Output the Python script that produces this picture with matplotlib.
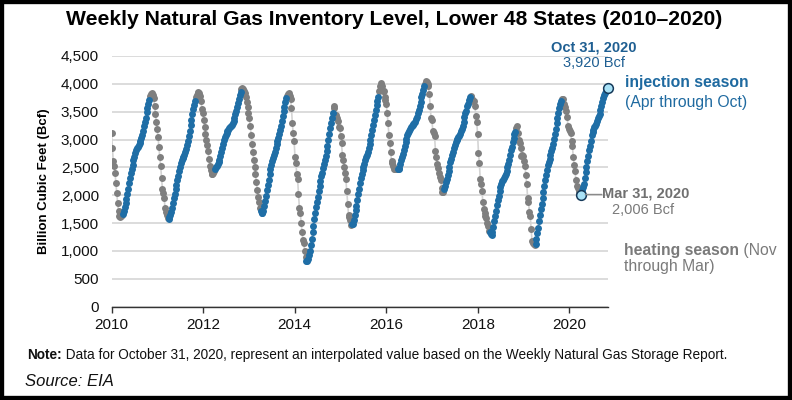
from matplotlib import pyplot as plt
from matplotlib.patches import Rectangle
import pandas as pd

# weekly working gas in storage, Bcf (week ending Fridays)
y2010 = [3117, 2851, 2607, 2523, 2406, 2229, 2036, 1853, 1723, 1625, 1616, 1627, 1638,
         1669, 1710, 1785, 1865, 1940, 2020, 2115, 2215, 2310, 2395, 2478, 2550, 2630,
         2695, 2755, 2807, 2844, 2873, 2910, 2938, 2966, 3027, 3086, 3157, 3235, 3312,
         3396, 3489, 3569, 3641, 3708, 3775, 3816, 3840, 3803, 3750, 3610, 3456, 3322, 3186]
y2011 = [3050, 2860, 2683, 2533, 2308, 2117, 2038, 1944, 1775, 1700, 1647, 1592, 1578,
         1604, 1654, 1704, 1780, 1853, 1948, 2020, 2110, 2190, 2266, 2355, 2444,
         2510, 2580, 2628, 2671, 2693, 2730, 2775, 2830, 2895, 2975, 3060, 3160, 3260, 3350,
         3450, 3540, 3620, 3690, 3760, 3800, 3835, 3852, 3843, 3787, 3695, 3546, 3473]
y2012 = [3350, 3230, 3100, 3000, 2900, 2790, 2650, 2530, 2450, 2390, 2375, 2395, 2440,
         2480, 2500, 2528, 2557, 2590, 2630, 2700, 2775, 2850, 2920, 2985, 3040, 3075,
         3110, 3145, 3175, 3200, 3222, 3245, 3270, 3300, 3340, 3390, 3450, 3520, 3590,
         3660, 3730, 3800, 3860, 3905, 3929, 3905, 3880, 3830, 3760, 3680, 3580, 3480]
y2013 = [3380, 3250, 3090, 2920, 2780, 2640, 2510, 2380, 2240, 2100, 1975, 1875, 1780,
         1720, 1687, 1676, 1719, 1800, 1900, 1995, 2090, 2180, 2280, 2375, 2470, 2545,
         2610, 2670, 2720, 2780, 2850, 2915, 2975, 3035, 3100, 3175, 3250, 3335, 3420,
         3505, 3590, 3675, 3740, 3785, 3815, 3834, 3790, 3720, 3570, 3290, 3110, 2970]
y2014 = [2694, 2587, 2390, 2284, 2022, 1780, 1683, 1509, 1348, 1200, 1143, 1001, 896,
         822, 826, 850, 925, 1006, 1111, 1216, 1332, 1446, 1568, 1679, 1793, 1883,
         1972, 2070, 2163, 2253, 2342, 2407, 2481, 2556, 2635, 2709, 2799, 2889, 2999,
         3100, 3205, 3299, 3393, 3484, 3574, 3611, 3449, 3432, 3381, 3327, 3225, 3199]
y2015 = [3070, 2939, 2723, 2629, 2515, 2400, 2284, 2069, 1850, 1652, 1607, 1553, 1461,
         1476, 1491, 1565, 1653, 1734, 1816, 1915, 2029, 2119, 2225, 2313, 2389, 2453,
         2509, 2565, 2635, 2683, 2715, 2780, 2850, 2920, 3000, 3080, 3170, 3260, 3350,
         3440, 3530, 3620, 3700, 3770, 3880, 3960, 4009, 3962, 3880, 3876, 3756, 3715]
y2016 = [3643, 3475, 3296, 3085, 2934, 2776, 2618, 2571, 2522, 2480, 2479, 2467, 2468,
         2473, 2477, 2484, 2557, 2625, 2681, 2749, 2820, 2885, 2950, 3015, 3077, 3114,
         3150, 3186, 3221, 3246, 3263, 3275, 3297, 3316, 3368, 3408, 3480, 3531, 3603, 3683,
         3762, 3823, 3882, 3953, 4004, 4047, 4035, 3993, 3966, 3819, 3598, 3389, 3360]
y2017 = [3160, 3117, 3066, 2802, 2684, 2570, 2481, 2391, 2333, 2280, 2130, 2051, 2053,
         2104, 2158, 2232, 2299, 2366, 2434, 2510, 2591, 2660, 2720, 2781, 2842, 2904,
         2960, 2995, 3015, 3040, 3065, 3106, 3152, 3183, 3242, 3311, 3402, 3473, 3519,
         3595, 3646, 3710, 3765, 3790, 3772, 3726, 3693, 3695, 3606, 3424, 3312, 3103]
y2018 = [2767, 2584, 2296, 2197, 2078, 1884, 1760, 1682, 1625, 1593, 1502, 1446, 1354,
         1332, 1299, 1281, 1343, 1432, 1538, 1629, 1725, 1817, 1909, 1995, 2071, 2149,
         2203, 2249, 2273, 2308, 2354, 2385, 2432, 2502, 2570, 2639, 2725, 2811, 2866,
         2956, 3037, 3095, 3143, 3208, 3247, 3113, 2991, 2932, 2855, 2714, 2725, 2705]
y2019 = [2614, 2533, 2370, 2197, 1960, 1882, 1705, 1628, 1390, 1186, 1143, 1130, 1107,
         1130, 1222, 1314, 1420, 1530, 1640, 1745, 1845, 1960, 2065, 2175, 2270, 2360,
         2450, 2540, 2600, 2660, 2725, 2790, 2855, 2925, 3010, 3095, 3190, 3290, 3390,
         3480, 3560, 3630, 3690, 3729, 3732, 3638, 3610, 3591, 3518, 3411, 3250, 3192]
y2020 = [3150, 3120, 2979, 2887, 2686, 2549, 2434, 2283, 2174, 2126, 2082, 2033, 2016,
         2029, 2097, 2140, 2210, 2319, 2422, 2503, 2612, 2714, 2807, 2892, 2972, 3077,
         3133, 3178, 3223, 3249, 3282, 3340, 3382, 3427, 3461, 3525, 3610, 3680, 3745,
         3795, 3840, 3872, 3898]
years = list(range(2010, 2021))

# the two labelled points
hi_dates = ["2020-03-31", "2020-10-31"]
hi_vals = [2006, 3920]
hi_labels = ["Mar 31, 2020", "Oct 31, 2020"]

xticks = [2010, 2012, 2014, 2016, 2018, 2020]
yticks = [0, 500, 1000, 1500, 2000, 2500, 3000, 3500, 4000, 4500]

BLUE = "#1f6ea6"
GRAY = "#7f7f7f"

parts = []
for yr, vals in zip(years, [y2010, y2011, y2012, y2013, y2014, y2015, y2016,
                            y2017, y2018, y2019, y2020]):
    d = pd.date_range(start=f"{yr}-01-01", periods=len(vals), freq="W-FRI")
    parts.append(pd.Series(vals, index=d))
parts.append(pd.Series(hi_vals, index=pd.to_datetime(hi_dates)))
s = pd.concat(parts).sort_index()

inj = (s.index.month >= 4) & (s.index.month <= 10)  # Apr through Oct

plt.rcParams['font.family'] = ['Liberation Sans', 'DejaVu Sans']
fig = plt.figure(figsize=(7.92, 4.0), dpi=100)
ax = fig.add_axes([111.5 / 792, 1 - 306.7 / 400, (608 - 111.5) / 792, (306.7 - 56) / 400])

ax.plot(s.index, s.values, color="#d4d4d4", lw=1.2, zorder=1)
ax.plot(s.index[~inj], s.values[~inj], 'o', color=GRAY, ms=5.0, mew=0, zorder=2)
ax.plot(s.index[inj], s.values[inj], 'o', color=BLUE, ms=5.0, mew=0, zorder=3)
ax.plot(pd.to_datetime(hi_dates), hi_vals, 'o', ms=7, mfc="#a9e2f7", mec="#163a5a",
        mew=1.1, zorder=4, clip_on=False)

ax.set_xlim(pd.Timestamp("2010-01-01"), pd.Timestamp("2020-11-03"))
ax.set_ylim(0, 4500)
ax.set_yticks(yticks)
ax.set_yticklabels([f"{v:,}" for v in yticks])
ax.set_xticks([pd.Timestamp(f"{y}-01-01") for y in xticks])
ax.set_xticklabels([str(y) for y in xticks])
ax.grid(axis='y', color="#d9d9d9", lw=1.3)
ax.set_axisbelow(True)
for sp in ['top', 'right', 'left']:
    ax.spines[sp].set_visible(False)
ax.spines['bottom'].set_color("#333333")
ax.spines['bottom'].set_linewidth(1.0)
ax.tick_params(axis='y', length=0, pad=9, labelsize=11, labelcolor="#111111")
ax.tick_params(axis='x', length=4, width=1.0, color="#333333", pad=4,
               labelsize=11, labelcolor="#111111")
ax.set_ylabel("Billion Cubic Feet (Bcf)", fontsize=9.5, fontweight='bold', labelpad=8)

fig.text(0.498, 0.952, "Weekly Natural Gas Inventory Level, Lower 48 States (2010\u20132020)",
         ha='center', va='center', fontsize=15.2, fontweight='bold')

# annotations
fig.text(594 / 792, 1 - 47 / 400, hi_labels[1], ha='center', va='center',
         fontsize=10.5, fontweight='bold', color="#1f5f92")
fig.text(594 / 792, 1 - 63 / 400, f"{hi_vals[1]:,} Bcf", ha='center', va='center',
         fontsize=10.5, color="#1f5f92")
fig.text(625 / 792, 1 - 83 / 400, "injection season", ha='left', va='center',
         fontsize=11.3, fontweight='bold', color="#1f6aa0")
fig.text(625 / 792, 1 - 102 / 400, "(Apr through Oct)", ha='left', va='center',
         fontsize=11.3, color="#1f6aa0")

fig.add_artist(plt.Line2D([585 / 792, 601 / 792], [1 - 194 / 400, 1 - 194 / 400],
                          color="#8a8a8a", lw=1.0))
fig.text(602 / 792, 1 - 194 / 400, hi_labels[0], ha='left', va='center',
         fontsize=10.5, fontweight='bold', color="#707070")
fig.text(643 / 792, 1 - 210 / 400, f"{hi_vals[0]:,} Bcf", ha='center', va='center',
         fontsize=10.5, color="#7a7a7a")
t = fig.text(624 / 792, 1 - 250 / 400, "heating season", ha='left', va='center',
             fontsize=11.3, fontweight='bold', color="#7a7a7a")
fig.canvas.draw()
bb = t.get_window_extent()
fig.text(bb.x1 / 792, 1 - 250 / 400, " (Nov", ha='left', va='center',
         fontsize=11.3, color="#7a7a7a")
fig.text(624 / 792, 1 - 267 / 400, "through Mar)", ha='left', va='center',
         fontsize=11.3, color="#7a7a7a")

# footer
n = fig.text(27 / 792, 1 - 355 / 400, "Note:", ha='left', va='center',
             fontsize=9.8, fontweight='bold', color="#111111")
fig.canvas.draw()
bb = n.get_window_extent()
fig.text(bb.x1 / 792, 1 - 355 / 400,
         " Data for October 31, 2020, represent an interpolated value based on the "
         "Weekly Natural Gas Storage Report.", ha='left', va='center',
         fontsize=9.8, color="#111111")
fig.text(25 / 792, 1 - 382 / 400, "Source: EIA", ha='left', va='center',
         fontsize=12, style='italic', color="#111111")

fig.patches.append(Rectangle((0, 0), 1, 1, transform=fig.transFigure, fill=False,
                             edgecolor='black', linewidth=6, zorder=10))

fig.savefig("out.png", dpi=100)
